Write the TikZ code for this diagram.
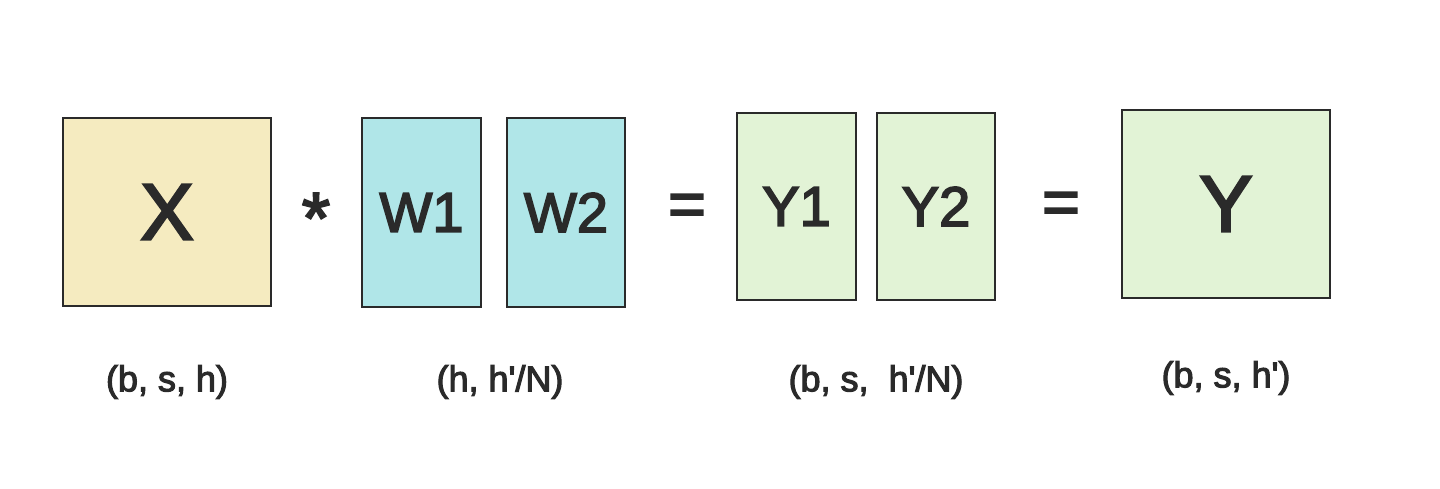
\documentclass[tikz,border=0pt]{standalone}
\usepackage{fontspec}
\setmainfont{Liberation Sans}[BoldFont={Liberation Sans},BoldFeatures={FakeBold=3}]
\begin{document}
\begin{tikzpicture}[x=0.5pt,y=-0.5pt]
\definecolor{xc}{HTML}{F5EBC0}
\definecolor{wc}{HTML}{B0E6E8}
\definecolor{yc}{HTML}{E2F3D6}
\definecolor{tc}{HTML}{2A2A2A}
\tikzset{box/.style={draw=tc,line width=1.2pt,inner sep=0pt,text=tc},
  lbl/.style={text=tc,font=\bfseries\fontsize{18}{20}\selectfont}}
\useasboundingbox (0,0) rectangle (1440,488);
\node[box,fill=xc,minimum width=104pt,minimum height=94pt,font=\bfseries\fontsize{40}{44}\selectfont] (X) at (167,212) {X};
\node[box,fill=wc,minimum width=59.5pt,minimum height=94.5pt,font=\bfseries\fontsize{28}{32}\selectfont] (W1) at (421.5,212.5) {W1};
\node[box,fill=wc,minimum width=59pt,minimum height=94.5pt,font=\bfseries\fontsize{28}{32}\selectfont] (W2) at (566,212.5) {W2};
\node[box,fill=yc,minimum width=59.5pt,minimum height=93.5pt,font=\bfseries\fontsize{28}{32}\selectfont] (Y1) at (796.5,206.5) {Y1};
\node[box,fill=yc,minimum width=59pt,minimum height=93.5pt,font=\bfseries\fontsize{28}{32}\selectfont] (Y2) at (936,206.5) {Y2};
\node[box,fill=yc,minimum width=104pt,minimum height=94pt,font=\bfseries\fontsize{40}{44}\selectfont] (Y) at (1226,204) {Y};
\node[text=tc,font=\bfseries\fontsize{36}{38}\selectfont] (m) at (316,218) {*};
\node[text=tc,font=\bfseries\fontsize{32}{34}\selectfont] (e1) at (687,210) {=};
\node[text=tc,font=\bfseries\fontsize{32}{34}\selectfont] (e2) at (1061,208) {=};
\node[lbl] (l1) at (167,382) {(b, s, h)};
\node[lbl] (l2) at (500,382) {(h, h\textquotesingle/N)};
\node[lbl] (l3) at (876,382) {(b, s,\ \ h\textquotesingle/N)};
\node[lbl] (l4) at (1226,378) {(b, s, h\textquotesingle)};
\end{tikzpicture}
\end{document}
